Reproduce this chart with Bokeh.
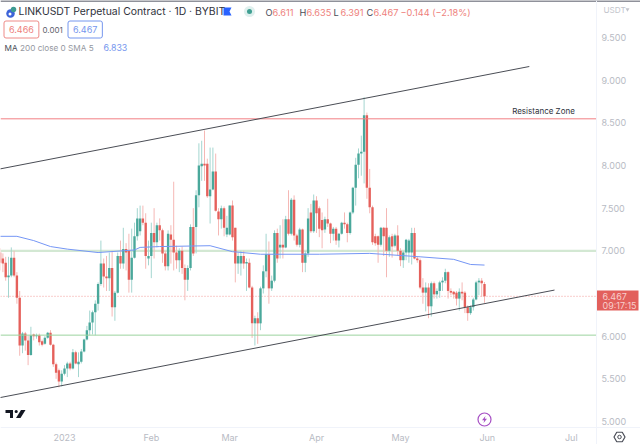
from bokeh.plotting import figure
from bokeh.embed import file_html
from bokeh.resources import INLINE
from bokeh.models import ColumnDataSource, Label, FixedTicker, Range1d, NumeralTickFormatter

days = list(range(-23, 151))
opens = [6.98,6.91,6.86,6.69,6.71,6.92,6.71,6.45,5.89,6.03,
5.95,5.78,6.02,6.00,6.01,5.94,5.91,5.98,6.04,5.90,
5.67,5.60,5.47,5.56,5.62,5.68,5.62,5.81,5.67,5.70,
5.82,5.96,6.07,6.16,6.28,6.38,6.61,6.85,6.70,6.68,
6.80,6.34,6.51,6.94,6.85,7.02,7.00,6.66,6.92,7.17,
7.23,7.38,7.33,6.91,6.94,7.21,7.10,7.30,7.24,6.97,
6.82,7.19,7.13,6.98,6.89,7.00,6.80,6.66,6.80,7.28,
7.28,7.65,7.99,8.02,8.02,7.64,7.72,7.93,7.46,7.37,
7.50,7.19,7.19,7.53,7.27,6.85,6.85,6.94,6.85,6.86,
6.57,6.15,6.21,6.15,6.56,6.76,6.96,6.56,6.65,7.21,
7.04,7.07,7.04,7.37,7.20,7.60,7.18,7.07,7.25,6.86,
6.97,7.45,7.23,7.59,7.50,7.36,7.25,7.37,7.32,7.20,
7.26,7.12,7.20,7.33,7.31,7.21,7.45,7.74,8.01,8.14,
8.16,8.59,7.74,7.51,7.17,7.17,7.07,7.27,7.27,7.00,
7.17,7.06,7.18,7.00,6.89,6.98,6.98,6.98,7.21,6.91,
6.89,6.57,6.51,6.57,6.35,6.62,6.49,6.53,6.63,6.65,
6.75,6.53,6.52,6.51,6.44,6.52,6.51,6.34,6.27,6.34,
6.43,6.63,6.65,6.611]
highs = [7.03,6.97,6.93,6.93,7.04,7.00,6.75,6.53,6.05,6.05,
6.01,6.11,6.03,6.03,6.03,5.96,6.00,6.05,6.07,5.91,
5.69,5.62,5.60,5.66,5.70,5.70,5.85,5.83,5.81,5.85,
5.97,6.12,6.30,6.30,6.42,6.63,7.12,6.91,6.94,6.98,
7.00,6.53,6.98,7.12,7.27,7.09,7.20,7.26,7.33,7.50,
7.53,7.53,7.44,7.12,7.33,7.50,7.33,7.38,7.26,7.00,
7.24,7.30,7.81,7.06,7.03,7.05,6.84,6.83,7.31,7.50,
7.71,8.26,8.29,8.41,8.08,8.21,8.21,8.14,7.50,7.53,
7.52,7.41,7.53,7.59,7.27,6.98,7.00,7.00,6.91,6.91,
6.59,6.24,6.28,6.58,6.83,7.20,7.11,6.71,7.24,7.26,
7.30,7.37,7.41,7.71,7.62,7.65,7.20,7.27,7.26,7.00,
7.50,7.55,7.66,7.64,7.52,7.45,7.40,7.61,7.33,7.28,
7.28,7.21,7.34,7.45,7.33,7.46,7.75,8.09,8.20,8.35,
8.80,8.62,7.96,7.53,7.20,7.18,7.28,7.28,7.50,7.18,
7.20,7.20,7.30,7.03,7.00,7.14,7.14,7.27,7.27,6.93,
6.91,6.68,6.63,6.62,6.64,6.64,6.56,6.65,6.69,6.79,
6.76,6.56,6.53,6.53,6.56,6.63,6.53,6.36,6.36,6.45,
6.65,6.68,6.68,6.635]
lows = [6.77,6.75,6.65,6.45,6.69,6.69,6.38,5.77,5.80,5.83,
5.66,5.77,5.95,5.97,5.89,5.88,5.90,5.97,5.89,5.64,
5.50,5.40,5.41,5.54,5.52,5.60,5.61,5.67,5.52,5.68,
5.81,5.95,6.01,6.02,6.01,6.30,6.59,6.57,6.53,6.53,
6.23,6.18,6.50,6.79,6.79,6.77,6.51,6.51,6.91,7.12,
7.18,7.30,6.79,6.83,6.68,6.91,7.04,7.12,6.86,6.77,
6.77,6.85,6.77,6.79,6.75,6.73,6.42,6.53,6.77,6.94,
6.97,7.51,7.82,7.82,7.62,7.32,7.71,7.46,7.18,7.26,
7.17,7.16,7.18,7.12,6.63,6.73,6.71,6.79,6.53,6.56,
5.98,5.89,5.91,6.07,6.50,6.69,6.38,6.53,6.63,6.86,
6.91,6.91,7.03,7.18,7.18,7.12,7.05,7.04,6.75,6.75,
6.93,7.21,7.21,7.21,7.16,7.03,7.21,7.28,7.09,7.12,
7.07,7.04,7.19,7.26,7.10,7.19,7.43,7.53,7.85,7.88,
7.79,7.61,7.44,7.07,7.06,6.86,7.05,6.94,6.69,6.93,
6.92,7.04,6.94,6.82,6.80,6.89,6.86,6.84,6.90,6.86,
6.55,6.38,6.29,6.21,6.23,6.44,6.44,6.45,6.53,6.62,
6.44,6.48,6.44,6.36,6.30,6.42,6.27,6.18,6.25,6.30,
6.42,6.48,6.46,6.391]
closes = [6.86,6.85,6.69,6.71,6.92,6.71,6.45,5.89,6.03,5.95,
5.78,6.01,6.00,6.01,5.93,5.90,5.98,6.04,5.90,5.67,
5.57,5.47,5.56,5.62,5.68,5.62,5.81,5.68,5.70,5.82,
5.96,6.07,6.16,6.28,6.38,6.61,6.85,6.70,6.68,6.80,
6.34,6.51,6.94,6.85,7.02,6.98,6.66,6.92,7.17,7.38,
7.38,7.33,6.94,6.94,7.21,7.10,7.30,7.24,6.97,6.82,
7.20,7.13,6.98,6.89,7.00,6.80,6.66,6.80,7.28,6.97,
7.65,8.00,8.02,8.00,7.64,7.72,7.93,7.47,7.37,7.50,
7.27,7.27,7.53,7.16,6.85,6.94,6.94,6.85,6.87,6.57,
6.15,6.21,6.15,6.56,6.76,6.96,6.56,6.65,7.21,6.91,
7.07,7.04,7.37,7.20,7.60,7.18,7.07,7.25,6.86,6.97,
7.38,7.23,7.59,7.44,7.26,7.24,7.37,7.32,7.20,7.26,
7.12,7.20,7.33,7.31,7.21,7.45,7.74,8.01,8.14,8.16,
8.59,7.74,7.51,7.10,7.09,7.07,7.27,7.17,7.00,7.16,
7.05,7.18,7.00,6.89,6.98,7.13,7.12,7.21,6.91,6.89,
6.57,6.51,6.57,6.35,6.62,6.49,6.53,6.63,6.65,6.75,
6.53,6.51,6.49,6.44,6.52,6.50,6.34,6.27,6.34,6.43,
6.63,6.65,6.62,6.467]

ma_days = [-23,-17,-11,-5,1,12,25,27,34,52,60,70,91,109,127,139,145,150]
ma_values = [7.17,7.17,7.12,7.05,7.02,6.98,7.01,7.04,7.05,7.06,6.99,6.96,6.96,6.97,6.93,6.90,6.84,6.833]

upper_days = [-23, 166]
upper_prices = [7.96, 9.16]
lower_days = [-23, 175]
lower_prices = [5.28, 6.54]
resistance = 8.547
support_high = 7.0
support_low = 6.012
last_price = 6.467

x_ticks = [0, 31, 59, 90, 120, 151, 181]
x_labels = ["2023", "Feb", "Mar", "Apr", "May", "Jun", "Jul"]
y_ticks_shown = [5.0, 5.5, 6.0, 7.0, 7.5, 8.0, 8.5, 9.0, 9.5]

FONT = "Inter"
W, H, FW, FH = 640, 444, 596, 427
PX_PER_DAY = 2.8
PX_PER_UNIT = 85.33

def dx(px):
    return (px - 64) / PX_PER_DAY

def dy(py):
    return 9.5 - (py - 37) / PX_PER_UNIT

p = figure(width=W, height=H, output_backend="svg", toolbar_location=None,
           x_range=Range1d(dx(0), dx(W)), y_range=Range1d(dy(H), dy(0)),
           y_axis_location="right", min_border=0,
           margin=(0, 0, 0, 0), background_fill_color="white", border_fill_color="white")
p.outline_line_color = None
p.grid.visible = False

p.xaxis.ticker = FixedTicker(ticks=x_ticks)
p.xaxis.major_label_overrides = dict(zip(x_ticks, x_labels))
p.yaxis.ticker = FixedTicker(ticks=y_ticks_shown)
p.yaxis.formatter = NumeralTickFormatter(format="0.000")
p.xaxis.fixed_location = dy(FH)
p.yaxis.fixed_location = dx(FW)
for ax in (p.xaxis[0], p.yaxis[0]):
    ax.major_tick_line_color = None
    ax.minor_tick_line_color = None
    ax.major_tick_out = 0
    ax.major_tick_in = 0
    ax.minor_tick_out = 0
    ax.minor_tick_in = 0
    ax.axis_line_color = "#f0f3fa"
    ax.major_label_text_color = "#b8bbc4"
    ax.major_label_text_font = FONT
    ax.major_label_text_font_size = "9px"
p.xaxis[0].major_label_standoff = 4
p.yaxis[0].major_label_standoff = 5

# top border of the page
p.line([dx(0), dx(W)], [dy(0.5), dy(0.5)], line_color="#6a6d78", line_width=1.5)

# horizontal levels
p.line([dx(0), dx(FW)], [support_high, support_high], line_color="#d3e8d3", line_width=2.2)
p.line([dx(0), dx(FW)], [last_price, last_price], line_color="#f39c98", line_width=1, line_dash="1 2")

green, red = "#4aa89b", "#e5605b"
gw, rw = "#a4d6d0", "#f5b8b5"
body_colors = [green if c >= o else red for o, c in zip(opens, closes)]
wick_colors = [gw if c >= o else rw for o, c in zip(opens, closes)]
src = ColumnDataSource(dict(d=days, o=opens, h=highs, l=lows, c=closes,
                            bc=body_colors, wc=wick_colors,
                            top=[max(a, b) for a, b in zip(opens, closes)],
                            bot=[min(a, b) for a, b in zip(opens, closes)]))
p.segment("d", "h", "d", "l", source=src, line_color="wc", line_width=1)
p.vbar("d", 0.85, "bot", "top", source=src, fill_color="bc", line_color=None)

p.line([dx(0), dx(FW)], [support_low, support_low], line_color="#9bd39e", line_width=1)
p.line([dx(0), dx(FW)], [resistance, resistance], line_color="#f27f83", line_width=1)
p.line(upper_days, upper_prices, line_color="#4a4d55", line_width=1)
p.line(lower_days, lower_prices, line_color="#4a4d55", line_width=1)
p.line(ma_days, ma_values, line_color="#7596f5", line_width=1)

# logo, bolt, header icons
p.patch([dx(v) for v in (5, 12.5, 12.5, 9.5, 9.5, 5)], [dy(v) for v in (409.5, 409.5, 417.5, 417.5, 412.5, 412.5)],
        fill_color="#131722", line_color=None)
p.patch([dx(v) for v in (20.5, 25, 20, 15.5)], [dy(v) for v in (409.5, 409.5, 417.5, 417.5)],
        fill_color="#131722", line_color=None)
p.scatter([dx(15.7)], [dy(411)], size=3.2, fill_color="#131722", line_color=None)
p.scatter([dx(484)], [dy(419)], size=13, fill_color="white", line_color="#a64fc4", line_width=1.2)
p.patch([dx(v) for v in (485, 481.5, 483.7, 483, 486.5, 484.3)], [dy(v) for v in (415.5, 419.8, 419.8, 422.5, 418.2, 418.2)],
        fill_color="#a64fc4", line_color=None)
p.scatter([dx(10)], [dy(13)], size=8.5, fill_color="#3d63d8", line_color=None)
p.scatter([dx(13)], [dy(9)], size=5.5, fill_color="#3d9b92", line_color=None)
p.scatter([dx(9.5)], [dy(13.5)], size=3, fill_color="white", line_color=None)
p.patch([dx(v) for v in (223, 231, 229, 231, 223)], [dy(v) for v in (7, 7, 11, 15, 15)],
        fill_color="#2962ff", line_color=None)
p.scatter([dx(249)], [dy(11)], size=11, fill_color="#dff0ee", line_color=None)
p.scatter([dx(249)], [dy(11)], size=5, fill_color="#3f9f92", line_color=None)

# price tag, currency caret, settings gear
p.quad(left=[dx(596)], right=[dx(638)], top=[dy(290)], bottom=[dy(310)], fill_color="#e2605c", line_color=None)
p.scatter([dx(627)], [dy(9)], marker="inverted_triangle", size=4, fill_color="#c3c5cc", line_color=None)
p.scatter([dx(619)], [dy(436.5)], marker="hex", size=11, fill_color="white", line_color="#4a4d57", line_width=1.2)
p.scatter([dx(619)], [dy(436.5)], size=3.5, fill_color="white", line_color="#4a4d57", line_width=1)


def lab(x, y, text, color, size=9, align="left", **kw):
    p.add_layout(Label(x=x, y=H - y, x_units="screen", y_units="screen", text=text,
                       text_color=color, text_font=FONT, text_font_size=f"{size}px",
                       text_align=align, text_baseline="middle", **kw))


lab(18, 11, "LINKUSDT Perpetual Contract · 1D · BYBIT", "#2f323b", 10.4)
TX = 265
parts = [("O", "#4a4d57"), ("6.611", "#ee7f7c"), ("H", "#4a4d57"), ("6.635", "#ee7f7c"),
         ("L", "#4a4d57"), ("6.391", "#ee7f7c"), ("C", "#4a4d57"), ("6.467", "#ee7f7c"),
         ("−0.144 (−2.18%)", "#ee7f7c")]
offs = [0, 7, 34, 41, 68, 75, 101, 108, 135]
for (t, c), o in zip(parts, offs):
    lab(TX + o, 12, t, c, 9.2)

lab(3.5, 29, "6.466", "#ee7f7c", 9, border_line_color="#ee8b88", background_fill_color="white",
    padding=5, border_radius=2)
lab(42, 29, "0.001", "#5d606b", 8)
lab(67.5, 29, "6.467", "#7596ee", 9, border_line_color="#7596ee", background_fill_color="white",
    padding=5, border_radius=2)
lab(4, 47, "MA", "#4a4d57", 8.2)
lab(19.5, 47, "200 close 0 SMA 5", "#9598a1", 8.2)
lab(103, 47, "6.833", "#7596ee", 8.8)

lab(543, 110, "Resistance Zone", "#2f323b", 8, align="center")
lab(603, 9, "USDT", "#c3c5cc", 8.2)
lab(602, 296, "6.467", "#f8cfcd", 9)
lab(602, 305, "09:17:15", "#f8cfcd", 9)

open("out.html", "w").write(file_html(p, INLINE))
